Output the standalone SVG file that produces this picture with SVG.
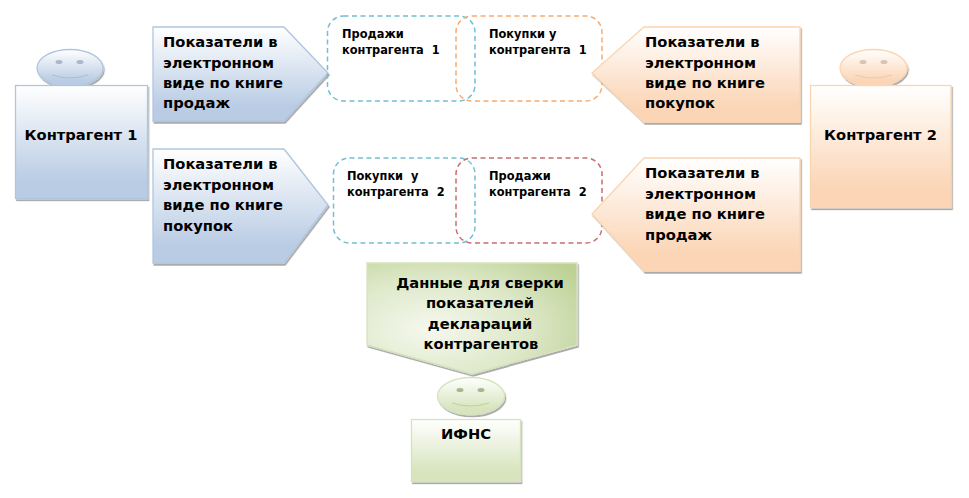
<svg xmlns="http://www.w3.org/2000/svg" width="969" height="498" viewBox="0 0 969 498">
<style>
text{font-family:"DejaVu Sans","Liberation Sans",sans-serif;font-weight:bold;fill:#000;white-space:pre}
.t{font-size:14.7px}
.s{font-size:11.4px}
.blue{fill:url(#gb);stroke:#b0c6e0;stroke-width:1.3;filter:url(#sh)}
.org{fill:url(#go);stroke:#fbd5b0;stroke-width:1.3;filter:url(#sh)}
.grn{fill:url(#gg);stroke:#d5e3bd;stroke-width:1.3;filter:url(#sh)}
.d{fill:none;stroke-width:1.5;stroke-dasharray:5 3.5}
.eye{stroke:none}
.sm{fill:none;stroke-width:1}
</style>
<defs>
<linearGradient id="gb" x1="0" y1="0" x2="0" y2="1"><stop offset="0" stop-color="#fff"/><stop offset=".85" stop-color="#b9cce4"/><stop offset="1" stop-color="#b9cce4"/></linearGradient>
<linearGradient id="go" x1="0" y1="0" x2="0" y2="1"><stop offset="0" stop-color="#fff"/><stop offset=".85" stop-color="#fbd5b5"/><stop offset="1" stop-color="#fbd5b5"/></linearGradient>
<linearGradient id="gg" x1="0" y1="0" x2="0" y2="1"><stop offset="0" stop-color="#fff"/><stop offset=".85" stop-color="#d7e4bd"/><stop offset="1" stop-color="#d7e4bd"/></linearGradient>
<radialGradient id="gg2" cx=".3" cy=".6" r=".85"><stop offset="0" stop-color="#f5f8ee"/><stop offset=".55" stop-color="#dde8c8"/><stop offset="1" stop-color="#bdd195"/></radialGradient>
<filter id="sh" x="-10%" y="-10%" width="125%" height="125%"><feDropShadow dx="1.2" dy="2" stdDeviation=".6" flood-color="#000" flood-opacity=".33"/></filter>
</defs>

<g id="connectors"></g>

<g id="face1"><ellipse class="blue" cx="70" cy="68" rx="33" ry="18.5"/><ellipse class="eye" cx="59" cy="62" rx="3.5" ry="2" fill="#a9b8cc"/><ellipse class="eye" cx="80" cy="62" rx="3.5" ry="2" fill="#a9b8cc"/><path class="sm" stroke="#a9bdd8" d="M52 75Q70 81 88 75"/></g>
<g id="contragent1"><rect class="blue" x="15.500" y="85.500" width="132" height="113"/><text class="t" x="81" y="140" text-anchor="middle">Контрагент 1</text></g>

<g id="arrow-sales1"><path class="blue" d="M153 27H284L328 73L284 121H153Z"/><text class="t"><tspan x="163" y="47">Показатели в</tspan><tspan x="163" y="67.500">электронном</tspan><tspan x="163" y="88">виде по книге</tspan><tspan x="163" y="108">продаж</tspan></text></g>
<g id="arrow-buy1"><path class="blue" d="M153 149H284L328 205L284 263H153Z"/><text class="t"><tspan x="163" y="169">Показатели в</tspan><tspan x="163" y="190">электронном</tspan><tspan x="163" y="210">виде по книге</tspan><tspan x="163" y="231">покупок</tspan></text></g>

<g id="box-top"><rect class="d" stroke="#72bfd2" x="327.500" y="16" width="147.500" height="85" rx="16"/><rect class="d" stroke="#f8aa6c" x="456" y="16" width="146" height="85" rx="16"/>
<text class="s"><tspan x="342" y="38">Продажи</tspan><tspan x="342" y="54">контрагента  1</tspan></text>
<text class="s"><tspan x="489" y="38">Покупки у</tspan><tspan x="489" y="54">контрагента  1</tspan></text></g>
<g id="box-bottom"><rect class="d" stroke="#72bfd2" x="333.500" y="158" width="141.500" height="85" rx="16"/><rect class="d" stroke="#c56f6f" x="456" y="158" width="146" height="85" rx="16"/>
<text class="s"><tspan x="347" y="180">Покупки  у</tspan><tspan x="347" y="196">контрагента  2</tspan></text>
<text class="s"><tspan x="489" y="180">Продажи</tspan><tspan x="489" y="196">контрагента  2</tspan></text></g>

<g id="arrow-buy2"><path class="org" d="M800 27H644L592 73L644 122H800Z"/><text class="t"><tspan x="645" y="47">Показатели в</tspan><tspan x="645" y="67.500">электронном</tspan><tspan x="645" y="88">виде по книге</tspan><tspan x="645" y="108">покупок</tspan></text></g>
<g id="arrow-sales2"><path class="org" d="M800 158H644L592 214L644 271H800Z"/><text class="t"><tspan x="645" y="178">Показатели в</tspan><tspan x="645" y="199">электронном</tspan><tspan x="645" y="219">виде по книге</tspan><tspan x="645" y="240">продаж</tspan></text></g>

<g id="face2"><ellipse class="org" cx="873.500" cy="68" rx="33.500" ry="18.500"/><ellipse class="eye" cx="863" cy="62" rx="3.500" ry="2" fill="#d9c4b4"/><ellipse class="eye" cx="884" cy="62" rx="3.500" ry="2" fill="#d9c4b4"/><path class="sm" stroke="#f0c8a4" d="M855 75Q873 81 892 75"/></g>
<g id="contragent2"><rect class="org" x="810.500" y="85.500" width="140.500" height="122"/><text class="t" x="880.500" y="140" text-anchor="middle">Контрагент 2</text></g>

<g id="arrow-data"><path class="grn" style="fill:url(#gg2)" d="M367 263H577V345L472 374L367 345Z"/><text class="t" text-anchor="middle"><tspan x="480" y="288">Данные для сверки</tspan><tspan x="480" y="308">показателей</tspan><tspan x="480" y="329">деклараций</tspan><tspan x="481" y="349">контрагентов</tspan></text></g>
<g id="face3"><ellipse class="grn" cx="471" cy="396" rx="33.500" ry="18.500"/><ellipse class="eye" cx="460" cy="390" rx="3.500" ry="2" fill="#a6b88c"/><ellipse class="eye" cx="481" cy="390" rx="3.500" ry="2" fill="#a6b88c"/><path class="sm" stroke="#bdd09a" d="M452 403Q470 409 489 403"/></g>
<g id="ifns"><rect class="grn" x="411.500" y="419.500" width="109" height="62"/><text class="t" x="466" y="439" text-anchor="middle">ИФНС</text></g>
</svg>
